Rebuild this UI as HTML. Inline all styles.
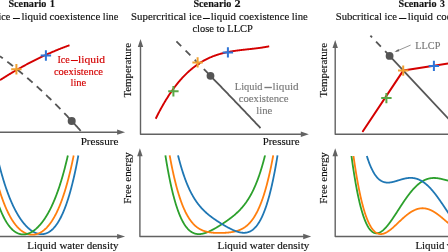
<!DOCTYPE html>
<html><head><meta charset="utf-8"><style>
html,body{margin:0;padding:0;background:#fff;}
svg{display:block;font-family:'Liberation Serif', serif;}
</style></head><body>
<svg width="448" height="252" viewBox="0 0 448 252">
<rect width="448" height="252" fill="#fff"/>
<text x="8.4" y="7.1" font-size="10.3" fill="#111" stroke="#111" stroke-width="0.15" font-weight="bold" text-anchor="start" textLength="38.0" lengthAdjust="spacingAndGlyphs" >Scenario</text>
<text x="50.1" y="7.1" font-size="10.3" fill="#111" stroke="#111" stroke-width="0.15" font-weight="bold" text-anchor="start" textLength="4.9" lengthAdjust="spacingAndGlyphs" >1</text>
<text x="193.4" y="7.1" font-size="10.3" fill="#111" stroke="#111" stroke-width="0.15" font-weight="bold" text-anchor="start" textLength="38.0" lengthAdjust="spacingAndGlyphs" >Scenario</text>
<text x="234.5" y="7.1" font-size="10.3" fill="#111" stroke="#111" stroke-width="0.15" font-weight="bold" text-anchor="start" textLength="6.1" lengthAdjust="spacingAndGlyphs" >2</text>
<text x="398.6" y="7.0" font-size="10.3" fill="#111" stroke="#111" stroke-width="0.15" font-weight="bold" text-anchor="start" textLength="37.9" lengthAdjust="spacingAndGlyphs" >Scenario</text>
<text x="440.0" y="7.0" font-size="10.3" fill="#111" stroke="#111" stroke-width="0.15" font-weight="bold" text-anchor="start" textLength="4.9" lengthAdjust="spacingAndGlyphs" >3</text>
<text x="-1.5" y="19.9" font-size="11" fill="#111" stroke="#111" stroke-width="0.15" font-weight="normal" text-anchor="start" textLength="11.8" lengthAdjust="spacingAndGlyphs" >ice</text>
<text x="13.15" y="21.10" font-size="11" fill="#111" stroke="#111" stroke-width="0.35" textLength="6.30" lengthAdjust="spacingAndGlyphs">&#8211;</text>
<text x="21.4" y="19.9" font-size="11" fill="#111" stroke="#111" stroke-width="0.15" font-weight="normal" text-anchor="start" textLength="25.6" lengthAdjust="spacingAndGlyphs" >liquid</text>
<text x="49.4" y="19.9" font-size="11" fill="#111" stroke="#111" stroke-width="0.15" font-weight="normal" text-anchor="start" textLength="50.9" lengthAdjust="spacingAndGlyphs" >coexistence</text>
<text x="102.8" y="19.9" font-size="11" fill="#111" stroke="#111" stroke-width="0.15" font-weight="normal" text-anchor="start" textLength="15.6" lengthAdjust="spacingAndGlyphs" >line</text>
<text x="131.1" y="19.9" font-size="11" fill="#111" stroke="#111" stroke-width="0.15" font-weight="normal" text-anchor="start" textLength="70.6" lengthAdjust="spacingAndGlyphs" >Supercritical ice</text>
<text x="203.15" y="21.10" font-size="11" fill="#111" stroke="#111" stroke-width="0.35" textLength="6.30" lengthAdjust="spacingAndGlyphs">&#8211;</text>
<text x="210.8" y="19.9" font-size="11" fill="#111" stroke="#111" stroke-width="0.15" font-weight="normal" text-anchor="start" textLength="25.2" lengthAdjust="spacingAndGlyphs" >liquid</text>
<text x="239.1" y="19.9" font-size="11" fill="#111" stroke="#111" stroke-width="0.15" font-weight="normal" text-anchor="start" textLength="50.2" lengthAdjust="spacingAndGlyphs" >coexistence</text>
<text x="291.8" y="19.9" font-size="11" fill="#111" stroke="#111" stroke-width="0.15" font-weight="normal" text-anchor="start" textLength="16.0" lengthAdjust="spacingAndGlyphs" >line</text>
<text x="192.4" y="31.6" font-size="11" fill="#111" stroke="#111" stroke-width="0.15" font-weight="normal" text-anchor="start" textLength="60.5" lengthAdjust="spacingAndGlyphs" >close to LLCP</text>
<text x="335.8" y="19.9" font-size="11" fill="#111" stroke="#111" stroke-width="0.15" font-weight="normal" text-anchor="start" textLength="61.2" lengthAdjust="spacingAndGlyphs" >Subcritical ice</text>
<text x="399.15" y="21.10" font-size="11" fill="#111" stroke="#111" stroke-width="0.35" textLength="6.80" lengthAdjust="spacingAndGlyphs">&#8211;</text>
<text x="407.7" y="19.9" font-size="11" fill="#111" stroke="#111" stroke-width="0.15" font-weight="normal" text-anchor="start" textLength="25.3" lengthAdjust="spacingAndGlyphs" >liquid</text>
<text x="436.5" y="19.9" font-size="11" fill="#111" stroke="#111" stroke-width="0.15" font-weight="normal" text-anchor="start" textLength="50.6" lengthAdjust="spacingAndGlyphs" >coexistence</text>
<path d="M-2,132.2H119.1" stroke="#626262" stroke-width="1.4" fill="none"/>
<path d="M125.1,132.2L117.1,129.6L117.1,134.79999999999998Z" fill="#626262"/>
<text x="80.7" y="144.6" font-size="11" fill="#111" stroke="#111" stroke-width="0.15" font-weight="normal" text-anchor="start" textLength="37.7" lengthAdjust="spacingAndGlyphs" >Pressure</text>
<path d="M0.00,56.25 L0.50,56.62 L1.00,56.98 L1.50,57.35 L2.00,57.72 L2.50,58.09 L3.00,58.46 L3.50,58.83 L4.00,59.20 L4.50,59.58 L5.00,59.95 L5.50,60.33 L6.00,60.71 L6.50,61.09 L7.00,61.47 L7.50,61.85 L8.00,62.23 L8.50,62.62 L9.00,63.00 L9.50,63.39 L10.00,63.78 L10.50,64.17 L11.00,64.56 L11.50,64.95 L12.00,65.34 L12.50,65.73 L13.00,66.13 L13.50,66.53 L14.00,66.92 L14.50,67.32 L15.00,67.72 L15.50,68.12 L16.00,68.53 L16.50,68.93 L17.00,69.33 L17.50,69.74 L18.00,70.15 L18.50,70.56 L19.00,70.97 L19.50,71.38 L20.00,71.79 L20.50,72.20 L21.00,72.62 L21.50,73.03 L22.00,73.45 L22.50,73.87 L23.00,74.29 L23.50,74.71 L24.00,75.13 L24.50,75.55 L25.00,75.98 L25.50,76.40 L26.00,76.83 L26.50,77.26 L27.00,77.69 L27.50,78.12 L28.00,78.55 L28.50,78.98 L29.00,79.41 L29.50,79.85 L30.00,80.29 L30.50,80.72 L31.00,81.16 L31.50,81.60 L32.00,82.04 L32.50,82.49 L33.00,82.93 L33.50,83.37 L34.00,83.82 L34.50,84.27 L35.00,84.72 L35.50,85.17 L36.00,85.62 L36.50,86.07 L37.00,86.52 L37.50,86.98 L38.00,87.43 L38.50,87.89 L39.00,88.35 L39.50,88.81 L40.00,89.27 L40.50,89.73 L41.00,90.19 L41.50,90.66 L42.00,91.12 L42.50,91.59 L43.00,92.06 L43.50,92.53 L44.00,93.00 L44.50,93.47 L45.00,93.94 L45.50,94.42 L46.00,94.89 L46.50,95.37 L47.00,95.85 L47.50,96.33 L48.00,96.81 L48.50,97.29 L49.00,97.77 L49.50,98.25 L50.00,98.74 L50.50,99.22 L51.00,99.71 L51.50,100.20 L52.00,100.69 L52.50,101.18 L53.00,101.67 L53.50,102.17 L54.00,102.66 L54.50,103.16 L55.00,103.66 L55.50,104.15 L56.00,104.65 L56.50,105.15 L57.00,105.66 L57.50,106.16 L58.00,106.66 L58.50,107.17 L59.00,107.68 L59.50,108.18 L60.00,108.69 L60.50,109.20 L61.00,109.72 L61.50,110.23 L62.00,110.74 L62.50,111.26 L63.00,111.78 L63.50,112.29 L64.00,112.81 L64.50,113.33 L65.00,113.85 L65.50,114.38 L66.00,114.90 L66.50,115.43 L67.00,115.95 L67.50,116.48 L68.00,117.01 L68.50,117.54 L69.00,118.07 L69.50,118.60 L70.00,119.14 L70.50,119.67 L71.00,120.21 L71.50,120.74" fill="none" stroke="#555555" stroke-width="1.8" stroke-linejoin="round" stroke-dasharray="7.2,5.6" stroke-dashoffset="3.7"/>
<path d="M71.70,120.96 L72.20,121.50 L72.70,122.04 L73.20,122.58 L73.70,123.12 L74.20,123.67 L74.70,124.21 L75.20,124.76 L75.70,125.30 L76.20,125.85 L76.70,126.40 L77.20,126.95 L77.70,127.51 L78.20,128.06 L78.70,128.62 L79.20,129.17 L79.70,129.73 L80.20,130.29 L80.70,130.85" fill="none" stroke="#555555" stroke-width="1.8" stroke-linejoin="round" />
<circle cx="71.7" cy="120.9" r="4.0" fill="#555555"/>
<path d="M0.00,80.11 L0.50,79.79 L1.00,79.47 L1.50,79.15 L2.00,78.83 L2.50,78.51 L3.00,78.19 L3.50,77.88 L4.00,77.57 L4.50,77.25 L5.00,76.94 L5.50,76.63 L6.00,76.32 L6.50,76.01 L7.00,75.70 L7.50,75.39 L8.00,75.09 L8.50,74.78 L9.00,74.48 L9.50,74.17 L10.00,73.87 L10.50,73.57 L11.00,73.27 L11.50,72.97 L12.00,72.67 L12.50,72.38 L13.00,72.08 L13.50,71.79 L14.00,71.49 L14.50,71.20 L15.00,70.91 L15.50,70.62 L16.00,70.33 L16.50,70.04 L17.00,69.75 L17.50,69.46 L18.00,69.18 L18.50,68.89 L19.00,68.61 L19.50,68.33 L20.00,68.05 L20.50,67.77 L21.00,67.49 L21.50,67.21 L22.00,66.93 L22.50,66.65 L23.00,66.38 L23.50,66.10 L24.00,65.83 L24.50,65.56 L25.00,65.29 L25.50,65.02 L26.00,64.75 L26.50,64.48 L27.00,64.21 L27.50,63.95 L28.00,63.68 L28.50,63.42 L29.00,63.15 L29.50,62.89 L30.00,62.63 L30.50,62.37 L31.00,62.11 L31.50,61.85 L32.00,61.60 L32.50,61.34 L33.00,61.08 L33.50,60.83 L34.00,60.58 L34.50,60.33 L35.00,60.07 L35.50,59.82 L36.00,59.58 L36.50,59.33 L37.00,59.08 L37.50,58.84 L38.00,58.59 L38.50,58.35 L39.00,58.10 L39.50,57.86 L40.00,57.62 L40.50,57.38 L41.00,57.14 L41.50,56.91 L42.00,56.67 L42.50,56.43 L43.00,56.20 L43.50,55.97 L44.00,55.73 L44.50,55.50 L45.00,55.27 L45.50,55.04 L46.00,54.81 L46.50,54.59 L47.00,54.36 L47.50,54.13 L48.00,53.91 L48.50,53.69 L49.00,53.47 L49.50,53.24 L50.00,53.02 L50.50,52.80 L51.00,52.59 L51.50,52.37 L52.00,52.15 L52.50,51.94 L53.00,51.72 L53.50,51.51 L54.00,51.30 L54.50,51.09 L55.00,50.88 L55.50,50.67 L56.00,50.46 L56.50,50.25 L57.00,50.05 L57.50,49.84 L58.00,49.64 L58.50,49.44 L59.00,49.24 L59.50,49.03 L60.00,48.84 L60.50,48.64 L61.00,48.44 L61.50,48.24 L62.00,48.05 L62.50,47.85 L63.00,47.66 L63.50,47.47 L64.00,47.27 L64.50,47.08 L65.00,46.89 L65.50,46.71 L66.00,46.52 L66.50,46.33 L67.00,46.15 L67.50,45.96 L68.00,45.78 L68.50,45.60 L69.00,45.42 L69.50,45.24" fill="none" stroke="#d40000" stroke-width="1.9" stroke-linejoin="round" />
<path d="M11.2,69.3H21.599999999999998M16.4,64.1V74.5" stroke="#f0a030" stroke-width="2" fill="none"/>
<path d="M40.699999999999996,55.5H51.1M45.9,50.3V60.7" stroke="#2f74d6" stroke-width="2" fill="none"/>
<text x="57.4" y="63.3" font-size="11" fill="#d40000" stroke="#d40000" stroke-width="0.15" font-weight="normal" text-anchor="start" textLength="12.3" lengthAdjust="spacingAndGlyphs" >Ice</text>
<text x="71.25" y="63.30" font-size="11" fill="#d40000" stroke="#d40000" stroke-width="0.53" textLength="6.20" lengthAdjust="spacingAndGlyphs">&#8211;</text>
<text x="78.1" y="63.3" font-size="11" fill="#d40000" stroke="#d40000" stroke-width="0.15" font-weight="normal" text-anchor="start" textLength="27.0" lengthAdjust="spacingAndGlyphs" >liquid</text>
<text x="53.9" y="74.8" font-size="11" fill="#d40000" stroke="#d40000" stroke-width="0.15" font-weight="normal" text-anchor="start" textLength="49.1" lengthAdjust="spacingAndGlyphs" >coexistence</text>
<text x="70.5" y="86.3" font-size="11" fill="#d40000" stroke="#d40000" stroke-width="0.15" font-weight="normal" text-anchor="start" textLength="15.8" lengthAdjust="spacingAndGlyphs" >line</text>
<path d="M-2,236.5H119.1" stroke="#626262" stroke-width="1.4" fill="none"/>
<path d="M125.1,236.5L117.1,233.9L117.1,239.1Z" fill="#626262"/>
<text x="27.2" y="249.0" font-size="11" fill="#111" stroke="#111" stroke-width="0.15" font-weight="normal" text-anchor="start" textLength="91.4" lengthAdjust="spacingAndGlyphs" >Liquid water density</text>
<path d="M-1.00,163.95 L-0.75,164.94 L-0.50,165.91 L-0.25,166.88 L0.00,167.84 L0.25,168.79 L0.50,169.72 L0.75,170.65 L1.00,171.57 L1.25,172.47 L1.50,173.37 L1.75,174.26 L2.00,175.14 L2.25,176.01 L2.50,176.87 L2.75,177.72 L3.00,178.56 L3.25,179.39 L3.50,180.21 L3.75,181.03 L4.00,181.83 L4.25,182.63 L4.50,183.41 L4.75,184.19 L5.00,184.96 L5.25,185.72 L5.50,186.48 L5.75,187.22 L6.00,187.96 L6.25,188.69 L6.50,189.41 L6.75,190.12 L7.00,190.83 L7.25,191.52 L7.50,192.21 L7.75,192.90 L8.00,193.57 L8.25,194.24 L8.50,194.89 L8.75,195.55 L9.00,196.19 L9.25,196.83 L9.50,197.46 L9.75,198.08 L10.00,198.69 L10.25,199.30 L10.50,199.90 L10.75,200.50 L11.00,201.09 L11.25,201.67 L11.50,202.24 L11.75,202.81 L12.00,203.37 L12.25,203.92 L12.50,204.47 L12.75,205.01 L13.00,205.55 L13.25,206.08 L13.50,206.60 L13.75,207.12 L14.00,207.63 L14.25,208.13 L14.50,208.63 L14.75,209.12 L15.00,209.61 L15.25,210.09 L15.50,210.57 L15.75,211.04 L16.00,211.50 L16.25,211.96 L16.50,212.41 L16.75,212.86 L17.00,213.30 L17.25,213.73 L17.50,214.16 L17.75,214.59 L18.00,215.01 L18.25,215.42 L18.50,215.83 L18.75,216.23 L19.00,216.63 L19.25,217.03 L19.50,217.42 L19.75,217.80 L20.00,218.18 L20.25,218.55 L20.50,218.92 L20.75,219.28 L21.00,219.64 L21.25,219.99 L21.50,220.34 L21.75,220.69 L22.00,221.03 L22.25,221.36 L22.50,221.69 L22.75,222.02 L23.00,222.34 L23.25,222.65 L23.50,222.96 L23.75,223.27 L24.00,223.57 L24.25,223.87 L24.50,224.16 L24.75,224.45 L25.00,224.74 L25.25,225.02 L25.50,225.29 L25.75,225.56 L26.00,225.83 L26.25,226.09 L26.50,226.35 L26.75,226.61 L27.00,226.86 L27.25,227.10 L27.50,227.34 L27.75,227.58 L28.00,227.81 L28.25,228.04 L28.50,228.26 L28.75,228.48 L29.00,228.70 L29.25,228.91 L29.50,229.12 L29.75,229.32 L30.00,229.52 L30.25,229.72 L30.50,229.91 L30.75,230.09 L31.00,230.28 L31.25,230.45 L31.50,230.63 L31.75,230.80 L32.00,230.97 L32.25,231.13 L32.50,231.29 L32.75,231.44 L33.00,231.59 L33.25,231.73 L33.50,231.88 L33.75,232.01 L34.00,232.15 L34.25,232.28 L34.50,232.40 L34.75,232.52 L35.00,232.64 L35.25,232.75 L35.50,232.86 L35.75,232.96 L36.00,233.06 L36.25,233.16 L36.50,233.25 L36.75,233.34 L37.00,233.42 L37.25,233.50 L37.50,233.57 L37.75,233.64 L38.00,233.71 L38.25,233.77 L38.50,233.83 L38.75,233.88 L39.00,233.93 L39.25,233.98 L39.50,234.02 L39.75,234.05 L40.00,234.08 L40.25,234.11 L40.50,234.13 L40.75,234.15 L41.00,234.16 L41.25,234.17 L41.50,234.18 L41.75,234.17 L42.00,234.17 L42.25,234.16 L42.50,234.14 L42.75,234.13 L43.00,234.10 L43.25,234.07 L43.50,234.04 L43.75,234.00 L44.00,233.96 L44.25,233.91 L44.50,233.85 L44.75,233.80 L45.00,233.73 L45.25,233.66 L45.50,233.59 L45.75,233.51 L46.00,233.43 L46.25,233.34 L46.50,233.25 L46.75,233.15 L47.00,233.04 L47.25,232.93 L47.50,232.81 L47.75,232.69 L48.00,232.57 L48.25,232.43 L48.50,232.30 L48.75,232.15 L49.00,232.00 L49.25,231.85 L49.50,231.69 L49.75,231.52 L50.00,231.35 L50.25,231.17 L50.50,230.98 L50.75,230.79 L51.00,230.60 L51.25,230.39 L51.50,230.19 L51.75,229.97 L52.00,229.75 L52.25,229.52 L52.50,229.29 L52.75,229.04 L53.00,228.80 L53.25,228.54 L53.50,228.28 L53.75,228.01 L54.00,227.74 L54.25,227.46 L54.50,227.17 L54.75,226.87 L55.00,226.57 L55.25,226.26 L55.50,225.94 L55.75,225.62 L56.00,225.29 L56.25,224.95 L56.50,224.60 L56.75,224.25 L57.00,223.89 L57.25,223.52 L57.50,223.14 L57.75,222.76 L58.00,222.36 L58.25,221.96 L58.50,221.55 L58.75,221.14 L59.00,220.71 L59.25,220.28 L59.50,219.84 L59.75,219.39 L60.00,218.93 L60.25,218.46 L60.50,217.98 L60.75,217.50 L61.00,217.00 L61.25,216.50 L61.50,215.99 L61.75,215.47 L62.00,214.94 L62.25,214.40 L62.50,213.85 L62.75,213.29 L63.00,212.72 L63.25,212.15 L63.50,211.56 L63.75,210.96 L64.00,210.35 L64.25,209.74 L64.50,209.11 L64.75,208.47 L65.00,207.82 L65.25,207.17 L65.50,206.50 L65.75,205.82 L66.00,205.13 L66.25,204.43 L66.50,203.72 L66.75,202.99 L67.00,202.26 L67.25,201.52 L67.50,200.76 L67.75,199.99 L68.00,199.21 L68.25,198.42 L68.50,197.62 L68.75,196.81 L69.00,195.98 L69.25,195.14 L69.50,194.29 L69.75,193.43 L70.00,192.56 L70.25,191.67 L70.50,190.77 L70.75,189.86 L71.00,188.93 L71.25,187.99 L71.50,187.04 L71.75,186.08 L72.00,185.10 L72.25,184.11 L72.50,183.10 L72.75,182.09 L73.00,181.06 L73.25,180.01 L73.50,178.95 L73.75,177.88 L74.00,176.79 L74.25,175.69 L74.50,174.57 L74.75,173.44 L75.00,172.29 L75.25,171.13 L75.50,169.96 L75.75,168.77 L76.00,167.56 L76.25,166.34 L76.50,165.10 L76.75,163.85 L77.00,162.58 L77.25,161.30 L77.50,160.00 L77.75,158.69 L78.00,157.35 L78.25,156.00 L78.34,155.50" fill="none" stroke="#1f77b4" stroke-width="1.8" stroke-linejoin="round" />
<path d="M-1.00,188.59 L-0.75,189.42 L-0.50,190.24 L-0.25,191.05 L0.00,191.85 L0.25,192.64 L0.50,193.42 L0.75,194.18 L1.00,194.94 L1.25,195.69 L1.50,196.43 L1.75,197.16 L2.00,197.88 L2.25,198.59 L2.50,199.29 L2.75,199.98 L3.00,200.67 L3.25,201.34 L3.50,202.00 L3.75,202.66 L4.00,203.30 L4.25,203.94 L4.50,204.57 L4.75,205.19 L5.00,205.80 L5.25,206.41 L5.50,207.00 L5.75,207.59 L6.00,208.17 L6.25,208.74 L6.50,209.30 L6.75,209.85 L7.00,210.40 L7.25,210.94 L7.50,211.47 L7.75,211.99 L8.00,212.51 L8.25,213.02 L8.50,213.52 L8.75,214.01 L9.00,214.50 L9.25,214.97 L9.50,215.45 L9.75,215.91 L10.00,216.37 L10.25,216.82 L10.50,217.26 L10.75,217.70 L11.00,218.13 L11.25,218.55 L11.50,218.96 L11.75,219.37 L12.00,219.78 L12.25,220.17 L12.50,220.56 L12.75,220.94 L13.00,221.32 L13.25,221.69 L13.50,222.06 L13.75,222.42 L14.00,222.77 L14.25,223.11 L14.50,223.45 L14.75,223.79 L15.00,224.12 L15.25,224.44 L15.50,224.75 L15.75,225.07 L16.00,225.37 L16.25,225.67 L16.50,225.96 L16.75,226.25 L17.00,226.54 L17.25,226.81 L17.50,227.08 L17.75,227.35 L18.00,227.61 L18.25,227.87 L18.50,228.12 L18.75,228.36 L19.00,228.60 L19.25,228.84 L19.50,229.07 L19.75,229.29 L20.00,229.51 L20.25,229.73 L20.50,229.94 L20.75,230.14 L21.00,230.34 L21.25,230.54 L21.50,230.73 L21.75,230.92 L22.00,231.10 L22.25,231.27 L22.50,231.44 L22.75,231.61 L23.00,231.77 L23.25,231.93 L23.50,232.08 L23.75,232.23 L24.00,232.38 L24.25,232.52 L24.50,232.65 L24.75,232.78 L25.00,232.91 L25.25,233.03 L25.50,233.15 L25.75,233.26 L26.00,233.37 L26.25,233.47 L26.50,233.57 L26.75,233.67 L27.00,233.76 L27.25,233.84 L27.50,233.93 L27.75,234.01 L28.00,234.08 L28.25,234.15 L28.50,234.22 L28.75,234.28 L29.00,234.33 L29.25,234.39 L29.50,234.44 L29.75,234.48 L30.00,234.52 L30.25,234.56 L30.50,234.59 L30.75,234.62 L31.00,234.64 L31.25,234.66 L31.50,234.68 L31.75,234.69 L32.00,234.70 L32.25,234.70 L32.50,234.70 L32.75,234.70 L33.00,234.69 L33.25,234.68 L33.50,234.66 L33.75,234.64 L34.00,234.61 L34.25,234.58 L34.50,234.55 L34.75,234.51 L35.00,234.47 L35.25,234.43 L35.50,234.38 L35.75,234.32 L36.00,234.26 L36.25,234.20 L36.50,234.13 L36.75,234.06 L37.00,233.99 L37.25,233.91 L37.50,233.82 L37.75,233.74 L38.00,233.64 L38.25,233.55 L38.50,233.45 L38.75,233.34 L39.00,233.23 L39.25,233.12 L39.50,233.00 L39.75,232.88 L40.00,232.75 L40.25,232.62 L40.50,232.48 L40.75,232.34 L41.00,232.20 L41.25,232.05 L41.50,231.89 L41.75,231.73 L42.00,231.57 L42.25,231.40 L42.50,231.23 L42.75,231.05 L43.00,230.87 L43.25,230.68 L43.50,230.49 L43.75,230.29 L44.00,230.09 L44.25,229.88 L44.50,229.67 L44.75,229.45 L45.00,229.23 L45.25,229.00 L45.50,228.77 L45.75,228.54 L46.00,228.29 L46.25,228.05 L46.50,227.79 L46.75,227.54 L47.00,227.27 L47.25,227.00 L47.50,226.73 L47.75,226.45 L48.00,226.16 L48.25,225.87 L48.50,225.58 L48.75,225.28 L49.00,224.97 L49.25,224.65 L49.50,224.33 L49.75,224.01 L50.00,223.68 L50.25,223.34 L50.50,223.00 L50.75,222.65 L51.00,222.29 L51.25,221.93 L51.50,221.57 L51.75,221.19 L52.00,220.81 L52.25,220.43 L52.50,220.03 L52.75,219.63 L53.00,219.23 L53.25,218.81 L53.50,218.39 L53.75,217.97 L54.00,217.53 L54.25,217.10 L54.50,216.65 L54.75,216.19 L55.00,215.73 L55.25,215.27 L55.50,214.79 L55.75,214.31 L56.00,213.82 L56.25,213.32 L56.50,212.82 L56.75,212.30 L57.00,211.78 L57.25,211.26 L57.50,210.72 L57.75,210.18 L58.00,209.63 L58.25,209.07 L58.50,208.50 L58.75,207.92 L59.00,207.34 L59.25,206.75 L59.50,206.15 L59.75,205.54 L60.00,204.92 L60.25,204.30 L60.50,203.66 L60.75,203.02 L61.00,202.37 L61.25,201.70 L61.50,201.03 L61.75,200.35 L62.00,199.67 L62.25,198.97 L62.50,198.26 L62.75,197.54 L63.00,196.82 L63.25,196.08 L63.50,195.34 L63.75,194.58 L64.00,193.81 L64.25,193.04 L64.50,192.25 L64.75,191.46 L65.00,190.65 L65.25,189.83 L65.50,189.01 L65.75,188.17 L66.00,187.32 L66.25,186.46 L66.50,185.59 L66.75,184.71 L67.00,183.82 L67.25,182.92 L67.50,182.00 L67.75,181.08 L68.00,180.14 L68.25,179.19 L68.50,178.23 L68.75,177.26 L69.00,176.27 L69.25,175.28 L69.50,174.27 L69.75,173.25 L70.00,172.21 L70.25,171.17 L70.50,170.11 L70.75,169.04 L71.00,167.96 L71.25,166.86 L71.50,165.75 L71.75,164.63 L72.00,163.49 L72.25,162.34 L72.50,161.18 L72.75,160.00 L73.00,158.81 L73.25,157.61 L73.50,156.39 L73.68,155.50" fill="none" stroke="#ff7f0e" stroke-width="1.8" stroke-linejoin="round" />
<path d="M-1.00,206.14 L-0.75,206.81 L-0.50,207.48 L-0.25,208.13 L0.00,208.77 L0.25,209.41 L0.50,210.03 L0.75,210.64 L1.00,211.25 L1.25,211.84 L1.50,212.43 L1.75,213.00 L2.00,213.57 L2.25,214.12 L2.50,214.67 L2.75,215.20 L3.00,215.73 L3.25,216.25 L3.50,216.76 L3.75,217.26 L4.00,217.75 L4.25,218.23 L4.50,218.71 L4.75,219.17 L5.00,219.63 L5.25,220.08 L5.50,220.52 L5.75,220.95 L6.00,221.37 L6.25,221.79 L6.50,222.20 L6.75,222.59 L7.00,222.99 L7.25,223.37 L7.50,223.75 L7.75,224.11 L8.00,224.47 L8.25,224.83 L8.50,225.17 L8.75,225.51 L9.00,225.84 L9.25,226.16 L9.50,226.48 L9.75,226.79 L10.00,227.09 L10.25,227.39 L10.50,227.67 L10.75,227.96 L11.00,228.23 L11.25,228.50 L11.50,228.76 L11.75,229.01 L12.00,229.26 L12.25,229.50 L12.50,229.74 L12.75,229.96 L13.00,230.19 L13.25,230.40 L13.50,230.61 L13.75,230.81 L14.00,231.01 L14.25,231.20 L14.50,231.39 L14.75,231.57 L15.00,231.74 L15.25,231.91 L15.50,232.07 L15.75,232.23 L16.00,232.38 L16.25,232.52 L16.50,232.66 L16.75,232.79 L17.00,232.92 L17.25,233.04 L17.50,233.16 L17.75,233.27 L18.00,233.38 L18.25,233.48 L18.50,233.57 L18.75,233.66 L19.00,233.75 L19.25,233.83 L19.50,233.90 L19.75,233.97 L20.00,234.04 L20.25,234.10 L20.50,234.15 L20.75,234.20 L21.00,234.25 L21.25,234.29 L21.50,234.32 L21.75,234.35 L22.00,234.38 L22.25,234.40 L22.50,234.42 L22.75,234.43 L23.00,234.44 L23.25,234.44 L23.50,234.44 L23.75,234.43 L24.00,234.42 L24.25,234.40 L24.50,234.38 L24.75,234.36 L25.00,234.33 L25.25,234.30 L25.50,234.26 L25.75,234.22 L26.00,234.17 L26.25,234.12 L26.50,234.06 L26.75,234.00 L27.00,233.94 L27.25,233.87 L27.50,233.80 L27.75,233.72 L28.00,233.64 L28.25,233.56 L28.50,233.47 L28.75,233.38 L29.00,233.28 L29.25,233.18 L29.50,233.07 L29.75,232.96 L30.00,232.85 L30.25,232.73 L30.50,232.60 L30.75,232.48 L31.00,232.35 L31.25,232.21 L31.50,232.07 L31.75,231.93 L32.00,231.78 L32.25,231.63 L32.50,231.48 L32.75,231.32 L33.00,231.15 L33.25,230.98 L33.50,230.81 L33.75,230.64 L34.00,230.46 L34.25,230.27 L34.50,230.08 L34.75,229.89 L35.00,229.69 L35.25,229.49 L35.50,229.29 L35.75,229.08 L36.00,228.87 L36.25,228.65 L36.50,228.43 L36.75,228.20 L37.00,227.97 L37.25,227.74 L37.50,227.50 L37.75,227.25 L38.00,227.01 L38.25,226.75 L38.50,226.50 L38.75,226.24 L39.00,225.97 L39.25,225.70 L39.50,225.43 L39.75,225.15 L40.00,224.87 L40.25,224.58 L40.50,224.29 L40.75,224.00 L41.00,223.70 L41.25,223.39 L41.50,223.08 L41.75,222.77 L42.00,222.45 L42.25,222.13 L42.50,221.80 L42.75,221.47 L43.00,221.13 L43.25,220.79 L43.50,220.44 L43.75,220.09 L44.00,219.73 L44.25,219.37 L44.50,219.00 L44.75,218.63 L45.00,218.25 L45.25,217.87 L45.50,217.48 L45.75,217.09 L46.00,216.69 L46.25,216.29 L46.50,215.88 L46.75,215.47 L47.00,215.05 L47.25,214.63 L47.50,214.20 L47.75,213.77 L48.00,213.33 L48.25,212.88 L48.50,212.43 L48.75,211.97 L49.00,211.51 L49.25,211.04 L49.50,210.57 L49.75,210.09 L50.00,209.60 L50.25,209.11 L50.50,208.61 L50.75,208.11 L51.00,207.60 L51.25,207.08 L51.50,206.56 L51.75,206.03 L52.00,205.49 L52.25,204.95 L52.50,204.40 L52.75,203.85 L53.00,203.29 L53.25,202.72 L53.50,202.14 L53.75,201.56 L54.00,200.98 L54.25,200.38 L54.50,199.78 L54.75,199.17 L55.00,198.55 L55.25,197.93 L55.50,197.30 L55.75,196.66 L56.00,196.02 L56.25,195.37 L56.50,194.71 L56.75,194.04 L57.00,193.36 L57.25,192.68 L57.50,191.99 L57.75,191.29 L58.00,190.59 L58.25,189.87 L58.50,189.15 L58.75,188.42 L59.00,187.68 L59.25,186.93 L59.50,186.18 L59.75,185.41 L60.00,184.64 L60.25,183.86 L60.50,183.07 L60.75,182.27 L61.00,181.46 L61.25,180.65 L61.50,179.82 L61.75,178.99 L62.00,178.14 L62.25,177.29 L62.50,176.43 L62.75,175.56 L63.00,174.68 L63.25,173.79 L63.50,172.88 L63.75,171.97 L64.00,171.05 L64.25,170.12 L64.50,169.18 L64.75,168.23 L65.00,167.27 L65.25,166.30 L65.50,165.32 L65.75,164.32 L66.00,163.32 L66.25,162.31 L66.50,161.28 L66.75,160.25 L67.00,159.20 L67.25,158.14 L67.50,157.07 L67.75,155.99 L67.86,155.50" fill="none" stroke="#2ca02c" stroke-width="1.8" stroke-linejoin="round" />
<path d="M140.5,45V134.3H302.8" stroke="#626262" stroke-width="1.4" fill="none" stroke-linejoin="round"/>
<path d="M308.8,134.3L300.8,131.60000000000002L300.8,137.0Z" fill="#626262"/>
<path d="M140.5,39L137.8,47L143.2,47Z" fill="#626262"/>
<text transform="translate(130.6,97.6) rotate(-90)" x="0" y="0" font-size="11" fill="#111" textLength="54.8" lengthAdjust="spacingAndGlyphs" stroke="#111" stroke-width="0.15">Temperature</text>
<text x="262.7" y="144.6" font-size="11" fill="#111" stroke="#111" stroke-width="0.15" font-weight="normal" text-anchor="start" textLength="36.8" lengthAdjust="spacingAndGlyphs" >Pressure</text>
<path d="M176.40,41.30 L176.90,41.80 L177.40,42.30 L177.90,42.81 L178.40,43.31 L178.90,43.81 L179.40,44.32 L179.90,44.82 L180.40,45.32 L180.90,45.83 L181.40,46.33 L181.90,46.83 L182.40,47.34 L182.90,47.84 L183.40,48.35 L183.90,48.85 L184.40,49.36 L184.90,49.86 L185.40,50.37 L185.90,50.87 L186.40,51.38 L186.90,51.88 L187.40,52.39 L187.90,52.89 L188.40,53.40 L188.90,53.91 L189.40,54.41 L189.90,54.92 L190.40,55.43 L190.90,55.93 L191.40,56.44 L191.90,56.95 L192.40,57.45 L192.90,57.96 L193.40,58.47 L193.90,58.98 L194.40,59.48 L194.90,59.99 L195.40,60.50 L195.90,61.01 L196.40,61.52 L196.90,62.03 L197.40,62.54 L197.90,63.04 L198.40,63.55 L198.90,64.06 L199.40,64.57 L199.90,65.08 L200.40,65.59 L200.90,66.10 L201.40,66.61 L201.90,67.12 L202.40,67.63 L202.90,68.14 L203.40,68.65 L203.90,69.17 L204.40,69.68 L204.90,70.19 L205.40,70.70 L205.90,71.21 L206.40,71.72 L206.90,72.23 L207.40,72.75 L207.90,73.26 L208.40,73.77 L208.90,74.28 L209.40,74.80 L209.90,75.31 L210.40,75.82" fill="none" stroke="#555555" stroke-width="1.8" stroke-linejoin="round" stroke-dasharray="6.8,6.2" stroke-dashoffset="0"/>
<path d="M210.50,75.93 L211.00,76.44 L211.50,76.95 L212.00,77.47 L212.50,77.98 L213.00,78.49 L213.50,79.01 L214.00,79.52 L214.50,80.04 L215.00,80.55 L215.50,81.07 L216.00,81.58 L216.50,82.10 L217.00,82.61 L217.50,83.13 L218.00,83.64 L218.50,84.16 L219.00,84.67 L219.50,85.19 L220.00,85.71 L220.50,86.22 L221.00,86.74 L221.50,87.25 L222.00,87.77 L222.50,88.29 L223.00,88.81 L223.50,89.32 L224.00,89.84 L224.50,90.36 L225.00,90.88 L225.50,91.39 L226.00,91.91 L226.50,92.43 L227.00,92.95 L227.50,93.47 L228.00,93.99 L228.50,94.51 L229.00,95.02 L229.50,95.54 L230.00,96.06 L230.50,96.58 L231.00,97.10 L231.50,97.62 L232.00,98.14 L232.50,98.66 L233.00,99.18 L233.50,99.70 L234.00,100.22 L234.50,100.74 L235.00,101.27 L235.50,101.79 L236.00,102.31 L236.50,102.83 L237.00,103.35 L237.50,103.87 L238.00,104.40 L238.50,104.92 L239.00,105.44 L239.50,105.96 L240.00,106.48 L240.50,107.01 L241.00,107.53 L241.50,108.05 L242.00,108.58 L242.50,109.10 L243.00,109.62 L243.50,110.15 L244.00,110.67 L244.50,111.20 L245.00,111.72 L245.50,112.24 L246.00,112.77 L246.50,113.29 L247.00,113.82 L247.50,114.34 L248.00,114.87 L248.50,115.39 L249.00,115.92 L249.50,116.44 L250.00,116.97 L250.50,117.50 L251.00,118.02 L251.50,118.55 L252.00,119.08 L252.50,119.60 L253.00,120.13 L253.50,120.66 L254.00,121.18 L254.50,121.71 L255.00,122.24 L255.50,122.77 L256.00,123.29 L256.50,123.82 L257.00,124.35 L257.50,124.88 L258.00,125.41 L258.50,125.93 L259.00,126.46 L259.50,126.99 L260.00,127.52 L260.50,128.05" fill="none" stroke="#555555" stroke-width="1.8" stroke-linejoin="round" />
<circle cx="210.5" cy="75.8" r="3.9" fill="#555555"/>
<path d="M155.70,118.73 L156.20,117.72 L156.70,116.71 L157.20,115.72 L157.70,114.74 L158.20,113.77 L158.70,112.80 L159.20,111.85 L159.70,110.91 L160.20,109.98 L160.70,109.05 L161.20,108.14 L161.70,107.24 L162.20,106.34 L162.70,105.46 L163.20,104.59 L163.70,103.72 L164.20,102.87 L164.70,102.02 L165.20,101.19 L165.70,100.36 L166.20,99.54 L166.70,98.74 L167.20,97.94 L167.70,97.15 L168.20,96.37 L168.70,95.60 L169.20,94.83 L169.70,94.08 L170.20,93.34 L170.70,92.60 L171.20,91.87 L171.70,91.16 L172.20,90.45 L172.70,89.74 L173.20,89.05 L173.70,88.37 L174.20,87.69 L174.70,87.02 L175.20,86.37 L175.70,85.71 L176.20,85.07 L176.70,84.44 L177.20,83.81 L177.70,83.19 L178.20,82.58 L178.70,81.98 L179.20,81.38 L179.70,80.80 L180.20,80.22 L180.70,79.65 L181.20,79.08 L181.70,78.53 L182.20,77.98 L182.70,77.44 L183.20,76.90 L183.70,76.37 L184.20,75.85 L184.70,75.34 L185.20,74.84 L185.70,74.34 L186.20,73.85 L186.70,73.36 L187.20,72.89 L187.70,72.42 L188.20,71.95 L188.70,71.50 L189.20,71.05 L189.70,70.60 L190.20,70.17 L190.70,69.74 L191.20,69.31 L191.70,68.90 L192.20,68.49 L192.70,68.08 L193.20,67.68 L193.70,67.29 L194.20,66.91 L194.70,66.53 L195.20,66.15 L195.70,65.78 L196.20,65.42 L196.70,65.07 L197.20,64.72 L197.70,64.37 L198.20,64.03 L198.70,63.70 L199.20,63.37 L199.70,63.05 L200.20,62.73 L200.70,62.42 L201.20,62.12 L201.70,61.82 L202.20,61.52 L202.70,61.23 L203.20,60.95 L203.70,60.67 L204.20,60.39 L204.70,60.12 L205.20,59.86 L205.70,59.60 L206.20,59.34 L206.70,59.09 L207.20,58.85 L207.70,58.61 L208.20,58.37 L208.70,58.14 L209.20,57.91 L209.70,57.69 L210.20,57.47 L210.70,57.25 L211.20,57.04 L211.70,56.84 L212.20,56.63 L212.70,56.44 L213.20,56.24 L213.70,56.05 L214.20,55.87 L214.70,55.68 L215.20,55.51 L215.70,55.33 L216.20,55.16 L216.70,54.99 L217.20,54.83 L217.70,54.67 L218.20,54.51 L218.70,54.36 L219.20,54.21 L219.70,54.06 L220.20,53.92 L220.70,53.78 L221.20,53.64 L221.70,53.50 L222.20,53.37 L222.70,53.24 L223.20,53.12 L223.70,52.99 L224.20,52.87 L224.70,52.76 L225.20,52.64 L225.70,52.53 L226.20,52.42 L226.70,52.31 L227.20,52.21 L227.70,52.11 L228.20,52.01 L228.70,51.91 L229.20,51.81 L229.70,51.72 L230.20,51.63 L230.70,51.54 L231.20,51.45 L231.70,51.37 L232.20,51.28 L232.70,51.20 L233.20,51.12 L233.70,51.04 L234.20,50.97 L234.70,50.89 L235.20,50.82 L235.70,50.74 L236.20,50.67 L236.70,50.60 L237.20,50.54 L237.70,50.47 L238.20,50.40 L238.70,50.34 L239.20,50.28 L239.70,50.21 L240.20,50.15 L240.70,50.09 L241.20,50.03 L241.70,49.97 L242.20,49.91 L242.70,49.86 L243.20,49.80 L243.70,49.74 L244.20,49.69 L244.70,49.63 L245.20,49.58 L245.70,49.52 L246.20,49.47 L246.70,49.41 L247.20,49.36 L247.70,49.31 L248.20,49.25 L248.70,49.20 L249.20,49.15 L249.70,49.09 L250.20,49.04 L250.70,48.98 L251.20,48.93 L251.70,48.87 L252.20,48.82 L252.70,48.76 L253.20,48.71 L253.70,48.65 L254.20,48.59 L254.70,48.53 L255.20,48.48 L255.70,48.42 L256.20,48.35 L256.70,48.29 L257.20,48.23 L257.70,48.17 L258.20,48.10 L258.70,48.04 L259.20,47.97 L259.70,47.90 L260.20,47.83 L260.70,47.76 L261.20,47.69 L261.70,47.62 L262.20,47.54 L262.70,47.47 L263.20,47.39 L263.70,47.31 L264.20,47.23 L264.70,47.14 L265.20,47.06 L265.70,46.97 L266.20,46.88 L266.70,46.79 L267.20,46.70 L267.70,46.60 L268.20,46.50 L268.70,46.40 L269.20,46.30" fill="none" stroke="#d40000" stroke-width="1.9" stroke-linejoin="round" />
<path d="M168.20000000000002,91.2H178.6M173.4,86.0V96.4" stroke="#5aa846" stroke-width="2" fill="none"/>
<path d="M192.4,62.4H202.79999999999998M197.6,57.199999999999996V67.6" stroke="#f0a030" stroke-width="2" fill="none"/>
<path d="M222.70000000000002,52.4H233.1M227.9,47.199999999999996V57.6" stroke="#2f74d6" stroke-width="2" fill="none"/>
<text x="234.8" y="90.2" font-size="11" fill="#7a7a7a" stroke="#7a7a7a" stroke-width="0.15" font-weight="normal" text-anchor="start" textLength="27.8" lengthAdjust="spacingAndGlyphs" >Liquid</text>
<text x="264.95" y="90.00" font-size="11" fill="#7a7a7a" stroke="#7a7a7a" stroke-width="0.83" textLength="6.30" lengthAdjust="spacingAndGlyphs">&#8211;</text>
<text x="272.6" y="90.2" font-size="11" fill="#7a7a7a" stroke="#7a7a7a" stroke-width="0.15" font-weight="normal" text-anchor="start" textLength="26.1" lengthAdjust="spacingAndGlyphs" >liquid</text>
<text x="238.7" y="101.9" font-size="11" fill="#7a7a7a" stroke="#7a7a7a" stroke-width="0.15" font-weight="normal" text-anchor="start" textLength="49.9" lengthAdjust="spacingAndGlyphs" >coexistence</text>
<text x="256.3" y="113.6" font-size="11" fill="#7a7a7a" stroke="#7a7a7a" stroke-width="0.15" font-weight="normal" text-anchor="start" textLength="16.0" lengthAdjust="spacingAndGlyphs" >line</text>
<path d="M139.9,154.3V236.5H305.2" stroke="#626262" stroke-width="1.4" fill="none" stroke-linejoin="round"/>
<path d="M311.2,236.5L303.2,233.8L303.2,239.2Z" fill="#626262"/>
<path d="M139.9,148.3L137.20000000000002,156.3L142.6,156.3Z" fill="#626262"/>
<text transform="translate(131.2,203.8) rotate(-90)" x="0" y="0" font-size="11" fill="#111" textLength="51.6" lengthAdjust="spacingAndGlyphs" stroke="#111" stroke-width="0.15">Free energy</text>
<text x="217.4" y="249.0" font-size="11" fill="#111" stroke="#111" stroke-width="0.15" font-weight="normal" text-anchor="start" textLength="91.9" lengthAdjust="spacingAndGlyphs" >Liquid water density</text>
<path d="M165.40,155.40 L165.50,156.01 L165.75,157.56 L166.00,159.09 L166.25,160.61 L166.50,162.09 L166.75,163.56 L167.00,165.01 L167.25,166.44 L167.50,167.84 L167.75,169.23 L168.00,170.60 L168.25,171.94 L168.50,173.27 L168.75,174.58 L169.00,175.86 L169.25,177.13 L169.50,178.38 L169.75,179.61 L170.00,180.82 L170.25,182.01 L170.50,183.19 L170.75,184.34 L171.00,185.48 L171.25,186.60 L171.50,187.70 L171.75,188.79 L172.00,189.85 L172.25,190.90 L172.50,191.94 L172.75,192.95 L173.00,193.95 L173.25,194.93 L173.50,195.90 L173.75,196.85 L174.00,197.78 L174.25,198.70 L174.50,199.61 L174.75,200.49 L175.00,201.36 L175.25,202.22 L175.50,203.06 L175.75,203.89 L176.00,204.70 L176.25,205.50 L176.50,206.28 L176.75,207.05 L177.00,207.80 L177.25,208.54 L177.50,209.26 L177.75,209.98 L178.00,210.67 L178.25,211.36 L178.50,212.03 L178.75,212.69 L179.00,213.34 L179.25,213.97 L179.50,214.59 L179.75,215.20 L180.00,215.79 L180.25,216.37 L180.50,216.94 L180.75,217.50 L181.00,218.05 L181.25,218.58 L181.50,219.11 L181.75,219.62 L182.00,220.12 L182.25,220.61 L182.50,221.09 L182.75,221.55 L183.00,222.01 L183.25,222.46 L183.50,222.89 L183.75,223.32 L184.00,223.73 L184.25,224.14 L184.50,224.53 L184.75,224.91 L185.00,225.29 L185.25,225.65 L185.50,226.01 L185.75,226.36 L186.00,226.69 L186.25,227.02 L186.50,227.34 L186.75,227.65 L187.00,227.95 L187.25,228.24 L187.50,228.52 L187.75,228.80 L188.00,229.07 L188.25,229.32 L188.50,229.58 L188.75,229.82 L189.00,230.05 L189.25,230.28 L189.50,230.50 L189.75,230.71 L190.00,230.91 L190.25,231.11 L190.50,231.30 L190.75,231.48 L191.00,231.66 L191.25,231.82 L191.50,231.99 L191.75,232.14 L192.00,232.29 L192.25,232.43 L192.50,232.56 L192.75,232.69 L193.00,232.82 L193.25,232.93 L193.50,233.04 L193.75,233.15 L194.00,233.24 L194.25,233.34 L194.50,233.42 L194.75,233.51 L195.00,233.58 L195.25,233.65 L195.50,233.72 L195.75,233.78 L196.00,233.83 L196.25,233.88 L196.50,233.93 L196.75,233.97 L197.00,234.00 L197.25,234.03 L197.50,234.06 L197.75,234.08 L198.00,234.10 L198.25,234.11 L198.50,234.12 L198.75,234.12 L199.00,234.12 L199.25,234.12 L199.50,234.11 L199.75,234.10 L200.00,234.08 L200.25,234.06 L200.50,234.04 L200.75,234.01 L201.00,233.98 L201.25,233.95 L201.50,233.91 L201.75,233.87 L202.00,233.82 L202.25,233.78 L202.50,233.73 L202.75,233.67 L203.00,233.62 L203.25,233.56 L203.50,233.49 L203.75,233.43 L204.00,233.36 L204.25,233.29 L204.50,233.22 L204.75,233.14 L205.00,233.06 L205.25,232.98 L205.50,232.90 L205.75,232.81 L206.00,232.72 L206.25,232.63 L206.50,232.54 L206.75,232.45 L207.00,232.35 L207.25,232.25 L207.50,232.15 L207.75,232.05 L208.00,231.94 L208.25,231.84 L208.50,231.73 L208.75,231.62 L209.00,231.50 L209.25,231.39 L209.50,231.28 L209.75,231.16 L210.00,231.04 L210.25,230.92 L210.50,230.80 L210.75,230.68 L211.00,230.55 L211.25,230.43 L211.50,230.30 L211.75,230.17 L212.00,230.04 L212.25,229.91 L212.50,229.78 L212.75,229.64 L213.00,229.51 L213.25,229.37 L213.50,229.24 L213.75,229.10 L214.00,228.96 L214.25,228.82 L214.50,228.68 L214.75,228.54 L215.00,228.40 L215.25,228.25 L215.50,228.11 L215.75,227.96 L216.00,227.82 L216.25,227.67 L216.50,227.52 L216.75,227.37 L217.00,227.23 L217.25,227.08 L217.50,226.92 L217.75,226.77 L218.00,226.62 L218.25,226.47 L218.50,226.31 L218.75,226.16 L219.00,226.01 L219.25,225.85 L219.50,225.69 L219.75,225.54 L220.00,225.38 L220.25,225.22 L220.50,225.06 L220.75,224.90 L221.00,224.74 L221.25,224.58 L221.50,224.42 L221.75,224.26 L222.00,224.10 L222.25,223.93 L222.50,223.77 L222.75,223.61 L223.00,223.44 L223.25,223.28 L223.50,223.11 L223.75,222.94 L224.00,222.77 L224.25,222.61 L224.50,222.44 L224.75,222.27 L225.00,222.10 L225.25,221.93 L225.50,221.76 L225.75,221.58 L226.00,221.41 L226.25,221.24 L226.50,221.06 L226.75,220.89 L227.00,220.71 L227.25,220.54 L227.50,220.36 L227.75,220.18 L228.00,220.00 L228.25,219.82 L228.50,219.64 L228.75,219.46 L229.00,219.28 L229.25,219.09 L229.50,218.91 L229.75,218.72 L230.00,218.53 L230.25,218.35 L230.50,218.16 L230.75,217.97 L231.00,217.78 L231.25,217.58 L231.50,217.39 L231.75,217.19 L232.00,217.00 L232.25,216.80 L232.50,216.60 L232.75,216.40 L233.00,216.20 L233.25,216.00 L233.50,215.79 L233.75,215.58 L234.00,215.38 L234.25,215.17 L234.50,214.96 L234.75,214.74 L235.00,214.53 L235.25,214.31 L235.50,214.09 L235.75,213.87 L236.00,213.65 L236.25,213.43 L236.50,213.20 L236.75,212.97 L237.00,212.74 L237.25,212.51 L237.50,212.27 L237.75,212.04 L238.00,211.80 L238.25,211.55 L238.50,211.31 L238.75,211.06 L239.00,210.81 L239.25,210.56 L239.50,210.31 L239.75,210.05 L240.00,209.79 L240.25,209.53 L240.50,209.26 L240.75,208.99 L241.00,208.72 L241.25,208.44 L241.50,208.16 L241.75,207.88 L242.00,207.60 L242.25,207.31 L242.50,207.02 L242.75,206.72 L243.00,206.42 L243.25,206.12 L243.50,205.81 L243.75,205.50 L244.00,205.19 L244.25,204.87 L244.50,204.55 L244.75,204.22 L245.00,203.89 L245.25,203.56 L245.50,203.22 L245.75,202.87 L246.00,202.53 L246.25,202.17 L246.50,201.82 L246.75,201.45 L247.00,201.09 L247.25,200.72 L247.50,200.34 L247.75,199.96 L248.00,199.57 L248.25,199.18 L248.50,198.78 L248.75,198.38 L249.00,197.97 L249.25,197.55 L249.50,197.13 L249.75,196.71 L250.00,196.28 L250.25,195.84 L250.50,195.39 L250.75,194.94 L251.00,194.49 L251.25,194.02 L251.50,193.55 L251.75,193.08 L252.00,192.60 L252.25,192.11 L252.50,191.61 L252.75,191.11 L253.00,190.60 L253.25,190.08 L253.50,189.55 L253.75,189.02 L254.00,188.48 L254.25,187.93 L254.50,187.38 L254.75,186.82 L255.00,186.24 L255.25,185.67 L255.50,185.08 L255.75,184.48 L256.00,183.88 L256.25,183.27 L256.50,182.64 L256.75,182.01 L257.00,181.37 L257.25,180.73 L257.50,180.07 L257.75,179.40 L258.00,178.73 L258.25,178.04 L258.50,177.35 L258.75,176.64 L259.00,175.93 L259.25,175.20 L259.50,174.47 L259.75,173.72 L260.00,172.97 L260.25,172.20 L260.50,171.43 L260.75,170.64 L261.00,169.84 L261.25,169.03 L261.50,168.21 L261.75,167.38 L262.00,166.54 L262.25,165.69 L262.50,164.82 L262.75,163.94 L263.00,163.05 L263.25,162.15 L263.50,161.24 L263.75,160.31 L264.00,159.37 L264.25,158.42 L264.50,157.45 L264.75,156.48 L265.00,155.49 L265.02,155.40" fill="none" stroke="#2ca02c" stroke-width="1.8" stroke-linejoin="round" />
<path d="M169.68,155.40 L169.75,155.80 L170.00,157.16 L170.25,158.51 L170.50,159.84 L170.75,161.15 L171.00,162.45 L171.25,163.72 L171.50,164.98 L171.75,166.22 L172.00,167.45 L172.25,168.65 L172.50,169.84 L172.75,171.01 L173.00,172.17 L173.25,173.31 L173.50,174.43 L173.75,175.54 L174.00,176.63 L174.25,177.70 L174.50,178.76 L174.75,179.80 L175.00,180.83 L175.25,181.84 L175.50,182.84 L175.75,183.82 L176.00,184.79 L176.25,185.74 L176.50,186.68 L176.75,187.61 L177.00,188.51 L177.25,189.41 L177.50,190.29 L177.75,191.16 L178.00,192.02 L178.25,192.86 L178.50,193.68 L178.75,194.50 L179.00,195.30 L179.25,196.09 L179.50,196.87 L179.75,197.63 L180.00,198.38 L180.25,199.12 L180.50,199.85 L180.75,200.56 L181.00,201.26 L181.25,201.95 L181.50,202.63 L181.75,203.30 L182.00,203.96 L182.25,204.60 L182.50,205.24 L182.75,205.86 L183.00,206.47 L183.25,207.08 L183.50,207.67 L183.75,208.25 L184.00,208.82 L184.25,209.38 L184.50,209.93 L184.75,210.47 L185.00,211.00 L185.25,211.52 L185.50,212.03 L185.75,212.54 L186.00,213.03 L186.25,213.51 L186.50,213.99 L186.75,214.45 L187.00,214.91 L187.25,215.36 L187.50,215.80 L187.75,216.23 L188.00,216.65 L188.25,217.07 L188.50,217.47 L188.75,217.87 L189.00,218.26 L189.25,218.64 L189.50,219.02 L189.75,219.39 L190.00,219.75 L190.25,220.10 L190.50,220.44 L190.75,220.78 L191.00,221.11 L191.25,221.44 L191.50,221.76 L191.75,222.07 L192.00,222.37 L192.25,222.67 L192.50,222.96 L192.75,223.24 L193.00,223.52 L193.25,223.80 L193.50,224.06 L193.75,224.32 L194.00,224.58 L194.25,224.83 L194.50,225.07 L194.75,225.31 L195.00,225.54 L195.25,225.77 L195.50,225.99 L195.75,226.20 L196.00,226.41 L196.25,226.62 L196.50,226.82 L196.75,227.02 L197.00,227.21 L197.25,227.39 L197.50,227.58 L197.75,227.75 L198.00,227.93 L198.25,228.10 L198.50,228.26 L198.75,228.42 L199.00,228.58 L199.25,228.73 L199.50,228.88 L199.75,229.02 L200.00,229.16 L200.25,229.30 L200.50,229.43 L200.75,229.56 L201.00,229.68 L201.25,229.81 L201.50,229.92 L201.75,230.04 L202.00,230.15 L202.25,230.26 L202.50,230.37 L202.75,230.47 L203.00,230.57 L203.25,230.67 L203.50,230.76 L203.75,230.85 L204.00,230.94 L204.25,231.02 L204.50,231.11 L204.75,231.19 L205.00,231.26 L205.25,231.34 L205.50,231.41 L205.75,231.48 L206.00,231.55 L206.25,231.62 L206.50,231.68 L206.75,231.74 L207.00,231.80 L207.25,231.86 L207.50,231.91 L207.75,231.97 L208.00,232.02 L208.25,232.07 L208.50,232.11 L208.75,232.16 L209.00,232.20 L209.25,232.25 L209.50,232.29 L209.75,232.33 L210.00,232.36 L210.25,232.40 L210.50,232.43 L210.75,232.47 L211.00,232.50 L211.25,232.53 L211.50,232.56 L211.75,232.59 L212.00,232.61 L212.25,232.64 L212.50,232.66 L212.75,232.69 L213.00,232.71 L213.25,232.73 L213.50,232.75 L213.75,232.77 L214.00,232.78 L214.25,232.80 L214.50,232.81 L214.75,232.83 L215.00,232.84 L215.25,232.86 L215.50,232.87 L215.75,232.88 L216.00,232.89 L216.25,232.90 L216.50,232.91 L216.75,232.91 L217.00,232.92 L217.25,232.93 L217.50,232.93 L217.75,232.94 L218.00,232.94 L218.25,232.94 L218.50,232.95 L218.75,232.95 L219.00,232.95 L219.25,232.95 L219.50,232.95 L219.75,232.95 L220.00,232.95 L220.25,232.95 L220.50,232.94 L220.75,232.94 L221.00,232.94 L221.25,232.93 L221.50,232.93 L221.75,232.92 L222.00,232.91 L222.25,232.91 L222.50,232.90 L222.75,232.89 L223.00,232.88 L223.25,232.87 L223.50,232.86 L223.75,232.85 L224.00,232.84 L224.25,232.83 L224.50,232.82 L224.75,232.80 L225.00,232.79 L225.25,232.77 L225.50,232.76 L225.75,232.74 L226.00,232.73 L226.25,232.71 L226.50,232.69 L226.75,232.67 L227.00,232.65 L227.25,232.63 L227.50,232.61 L227.75,232.59 L228.00,232.56 L228.25,232.54 L228.50,232.52 L228.75,232.49 L229.00,232.46 L229.25,232.44 L229.50,232.41 L229.75,232.38 L230.00,232.35 L230.25,232.31 L230.50,232.28 L230.75,232.25 L231.00,232.21 L231.25,232.18 L231.50,232.14 L231.75,232.10 L232.00,232.06 L232.25,232.02 L232.50,231.98 L232.75,231.93 L233.00,231.89 L233.25,231.84 L233.50,231.79 L233.75,231.74 L234.00,231.69 L234.25,231.63 L234.50,231.58 L234.75,231.52 L235.00,231.46 L235.25,231.40 L235.50,231.34 L235.75,231.28 L236.00,231.21 L236.25,231.14 L236.50,231.07 L236.75,231.00 L237.00,230.93 L237.25,230.85 L237.50,230.77 L237.75,230.69 L238.00,230.61 L238.25,230.52 L238.50,230.43 L238.75,230.34 L239.00,230.25 L239.25,230.15 L239.50,230.05 L239.75,229.95 L240.00,229.85 L240.25,229.74 L240.50,229.63 L240.75,229.52 L241.00,229.40 L241.25,229.28 L241.50,229.16 L241.75,229.03 L242.00,228.90 L242.25,228.77 L242.50,228.64 L242.75,228.50 L243.00,228.35 L243.25,228.21 L243.50,228.06 L243.75,227.90 L244.00,227.74 L244.25,227.58 L244.50,227.42 L244.75,227.25 L245.00,227.07 L245.25,226.89 L245.50,226.71 L245.75,226.52 L246.00,226.33 L246.25,226.13 L246.50,225.93 L246.75,225.73 L247.00,225.52 L247.25,225.30 L247.50,225.08 L247.75,224.85 L248.00,224.62 L248.25,224.39 L248.50,224.14 L248.75,223.90 L249.00,223.65 L249.25,223.39 L249.50,223.12 L249.75,222.85 L250.00,222.58 L250.25,222.30 L250.50,222.01 L250.75,221.71 L251.00,221.41 L251.25,221.11 L251.50,220.79 L251.75,220.47 L252.00,220.15 L252.25,219.81 L252.50,219.47 L252.75,219.13 L253.00,218.77 L253.25,218.41 L253.50,218.04 L253.75,217.67 L254.00,217.28 L254.25,216.89 L254.50,216.49 L254.75,216.08 L255.00,215.67 L255.25,215.25 L255.50,214.81 L255.75,214.37 L256.00,213.93 L256.25,213.47 L256.50,213.00 L256.75,212.53 L257.00,212.05 L257.25,211.56 L257.50,211.06 L257.75,210.54 L258.00,210.03 L258.25,209.50 L258.50,208.96 L258.75,208.41 L259.00,207.85 L259.25,207.28 L259.50,206.70 L259.75,206.12 L260.00,205.52 L260.25,204.91 L260.50,204.29 L260.75,203.66 L261.00,203.01 L261.25,202.36 L261.50,201.70 L261.75,201.02 L262.00,200.34 L262.25,199.64 L262.50,198.93 L262.75,198.21 L263.00,197.47 L263.25,196.73 L263.50,195.97 L263.75,195.20 L264.00,194.42 L264.25,193.62 L264.50,192.81 L264.75,191.99 L265.00,191.16 L265.25,190.31 L265.50,189.45 L265.75,188.57 L266.00,187.68 L266.25,186.78 L266.50,185.87 L266.75,184.94 L267.00,183.99 L267.25,183.03 L267.50,182.06 L267.75,181.07 L268.00,180.07 L268.25,179.05 L268.50,178.02 L268.75,176.97 L269.00,175.90 L269.25,174.82 L269.50,173.73 L269.75,172.62 L270.00,171.49 L270.25,170.34 L270.50,169.18 L270.75,168.01 L271.00,166.81 L271.25,165.60 L271.50,164.37 L271.75,163.13 L272.00,161.86 L272.25,160.58 L272.50,159.28 L272.75,157.97 L273.00,156.63 L273.23,155.40" fill="none" stroke="#ff7f0e" stroke-width="1.8" stroke-linejoin="round" />
<path d="M178.04,155.40 L178.25,156.25 L178.50,157.24 L178.75,158.21 L179.00,159.17 L179.25,160.12 L179.50,161.05 L179.75,161.97 L180.00,162.88 L180.25,163.78 L180.50,164.66 L180.75,165.54 L181.00,166.40 L181.25,167.25 L181.50,168.09 L181.75,168.91 L182.00,169.73 L182.25,170.53 L182.50,171.32 L182.75,172.11 L183.00,172.88 L183.25,173.64 L183.50,174.39 L183.75,175.13 L184.00,175.86 L184.25,176.57 L184.50,177.28 L184.75,177.98 L185.00,178.67 L185.25,179.35 L185.50,180.02 L185.75,180.68 L186.00,181.33 L186.25,181.98 L186.50,182.61 L186.75,183.23 L187.00,183.85 L187.25,184.45 L187.50,185.05 L187.75,185.64 L188.00,186.22 L188.25,186.80 L188.50,187.36 L188.75,187.92 L189.00,188.47 L189.25,189.01 L189.50,189.54 L189.75,190.07 L190.00,190.59 L190.25,191.10 L190.50,191.60 L190.75,192.10 L191.00,192.59 L191.25,193.07 L191.50,193.55 L191.75,194.02 L192.00,194.48 L192.25,194.93 L192.50,195.38 L192.75,195.83 L193.00,196.26 L193.25,196.70 L193.50,197.12 L193.75,197.54 L194.00,197.95 L194.25,198.36 L194.50,198.76 L194.75,199.16 L195.00,199.55 L195.25,199.93 L195.50,200.31 L195.75,200.69 L196.00,201.06 L196.25,201.42 L196.50,201.78 L196.75,202.14 L197.00,202.49 L197.25,202.83 L197.50,203.17 L197.75,203.51 L198.00,203.84 L198.25,204.17 L198.50,204.49 L198.75,204.81 L199.00,205.12 L199.25,205.43 L199.50,205.74 L199.75,206.04 L200.00,206.34 L200.25,206.63 L200.50,206.92 L200.75,207.21 L201.00,207.50 L201.25,207.78 L201.50,208.05 L201.75,208.33 L202.00,208.60 L202.25,208.87 L202.50,209.13 L202.75,209.39 L203.00,209.65 L203.25,209.90 L203.50,210.16 L203.75,210.41 L204.00,210.65 L204.25,210.90 L204.50,211.14 L204.75,211.38 L205.00,211.61 L205.25,211.84 L205.50,212.08 L205.75,212.30 L206.00,212.53 L206.25,212.76 L206.50,212.98 L206.75,213.20 L207.00,213.42 L207.25,213.63 L207.50,213.84 L207.75,214.06 L208.00,214.27 L208.25,214.47 L208.50,214.68 L208.75,214.88 L209.00,215.09 L209.25,215.29 L209.50,215.49 L209.75,215.68 L210.00,215.88 L210.25,216.08 L210.50,216.27 L210.75,216.46 L211.00,216.65 L211.25,216.84 L211.50,217.03 L211.75,217.21 L212.00,217.40 L212.25,217.58 L212.50,217.76 L212.75,217.95 L213.00,218.13 L213.25,218.30 L213.50,218.48 L213.75,218.66 L214.00,218.84 L214.25,219.01 L214.50,219.18 L214.75,219.36 L215.00,219.53 L215.25,219.70 L215.50,219.87 L215.75,220.04 L216.00,220.21 L216.25,220.38 L216.50,220.54 L216.75,220.71 L217.00,220.87 L217.25,221.04 L217.50,221.20 L217.75,221.37 L218.00,221.53 L218.25,221.69 L218.50,221.85 L218.75,222.01 L219.00,222.17 L219.25,222.33 L219.50,222.49 L219.75,222.65 L220.00,222.80 L220.25,222.96 L220.50,223.11 L220.75,223.27 L221.00,223.42 L221.25,223.58 L221.50,223.73 L221.75,223.88 L222.00,224.04 L222.25,224.19 L222.50,224.34 L222.75,224.49 L223.00,224.64 L223.25,224.79 L223.50,224.94 L223.75,225.08 L224.00,225.23 L224.25,225.38 L224.50,225.52 L224.75,225.67 L225.00,225.81 L225.25,225.96 L225.50,226.10 L225.75,226.24 L226.00,226.38 L226.25,226.53 L226.50,226.67 L226.75,226.81 L227.00,226.94 L227.25,227.08 L227.50,227.22 L227.75,227.36 L228.00,227.49 L228.25,227.63 L228.50,227.76 L228.75,227.89 L229.00,228.02 L229.25,228.15 L229.50,228.28 L229.75,228.41 L230.00,228.54 L230.25,228.67 L230.50,228.79 L230.75,228.92 L231.00,229.04 L231.25,229.16 L231.50,229.28 L231.75,229.40 L232.00,229.52 L232.25,229.64 L232.50,229.75 L232.75,229.87 L233.00,229.98 L233.25,230.09 L233.50,230.20 L233.75,230.31 L234.00,230.42 L234.25,230.52 L234.50,230.62 L234.75,230.73 L235.00,230.83 L235.25,230.92 L235.50,231.02 L235.75,231.11 L236.00,231.21 L236.25,231.30 L236.50,231.39 L236.75,231.47 L237.00,231.56 L237.25,231.64 L237.50,231.72 L237.75,231.79 L238.00,231.87 L238.25,231.94 L238.50,232.01 L238.75,232.08 L239.00,232.15 L239.25,232.21 L239.50,232.27 L239.75,232.32 L240.00,232.38 L240.25,232.43 L240.50,232.48 L240.75,232.52 L241.00,232.57 L241.25,232.61 L241.50,232.64 L241.75,232.67 L242.00,232.70 L242.25,232.73 L242.50,232.75 L242.75,232.77 L243.00,232.79 L243.25,232.80 L243.50,232.81 L243.75,232.81 L244.00,232.81 L244.25,232.81 L244.50,232.80 L244.75,232.79 L245.00,232.77 L245.25,232.75 L245.50,232.73 L245.75,232.70 L246.00,232.67 L246.25,232.63 L246.50,232.58 L246.75,232.54 L247.00,232.49 L247.25,232.43 L247.50,232.37 L247.75,232.30 L248.00,232.23 L248.25,232.15 L248.50,232.06 L248.75,231.98 L249.00,231.88 L249.25,231.78 L249.50,231.68 L249.75,231.57 L250.00,231.45 L250.25,231.32 L250.50,231.20 L250.75,231.06 L251.00,230.92 L251.25,230.77 L251.50,230.61 L251.75,230.45 L252.00,230.29 L252.25,230.11 L252.50,229.93 L252.75,229.74 L253.00,229.54 L253.25,229.34 L253.50,229.13 L253.75,228.91 L254.00,228.69 L254.25,228.45 L254.50,228.21 L254.75,227.97 L255.00,227.71 L255.25,227.44 L255.50,227.17 L255.75,226.89 L256.00,226.60 L256.25,226.30 L256.50,226.00 L256.75,225.68 L257.00,225.36 L257.25,225.02 L257.50,224.68 L257.75,224.33 L258.00,223.97 L258.25,223.60 L258.50,223.22 L258.75,222.83 L259.00,222.43 L259.25,222.02 L259.50,221.60 L259.75,221.17 L260.00,220.73 L260.25,220.27 L260.50,219.81 L260.75,219.34 L261.00,218.86 L261.25,218.36 L261.50,217.86 L261.75,217.34 L262.00,216.81 L262.25,216.27 L262.50,215.72 L262.75,215.16 L263.00,214.58 L263.25,214.00 L263.50,213.40 L263.75,212.78 L264.00,212.16 L264.25,211.52 L264.50,210.87 L264.75,210.21 L265.00,209.53 L265.25,208.85 L265.50,208.14 L265.75,207.43 L266.00,206.70 L266.25,205.95 L266.50,205.20 L266.75,204.42 L267.00,203.64 L267.25,202.84 L267.50,202.02 L267.75,201.19 L268.00,200.35 L268.25,199.49 L268.50,198.61 L268.75,197.72 L269.00,196.82 L269.25,195.90 L269.50,194.96 L269.75,194.01 L270.00,193.04 L270.25,192.05 L270.50,191.05 L270.75,190.03 L271.00,188.99 L271.25,187.94 L271.50,186.87 L271.75,185.78 L272.00,184.68 L272.25,183.56 L272.50,182.42 L272.75,181.26 L273.00,180.08 L273.25,178.89 L273.50,177.67 L273.75,176.44 L274.00,175.19 L274.25,173.92 L274.50,172.63 L274.75,171.33 L275.00,170.00 L275.25,168.65 L275.50,167.28 L275.75,165.89 L276.00,164.49 L276.25,163.06 L276.50,161.61 L276.75,160.14 L277.00,158.65 L277.25,157.14 L277.50,155.60 L277.53,155.40" fill="none" stroke="#1f77b4" stroke-width="1.8" stroke-linejoin="round" />
<path d="M335.2,46V134.3H464" stroke="#626262" stroke-width="1.4" fill="none" stroke-linejoin="round"/>
<path d="M470,134.3L462,131.60000000000002L462,137.0Z" fill="#626262"/>
<path d="M335.2,40L332.5,48L337.9,48Z" fill="#626262"/>
<text transform="translate(326.8,97.6) rotate(-90)" x="0" y="0" font-size="11" fill="#111" textLength="54.8" lengthAdjust="spacingAndGlyphs" stroke="#111" stroke-width="0.15">Temperature</text>
<path d="M370.4,35.7 L389.6,55.9" fill="none" stroke="#555555" stroke-width="1.8" stroke-linejoin="round" stroke-dasharray="2.4,5.8,7.0,6.2,30"/>
<path d="M389.6,55.9 L460,131" fill="none" stroke="#555555" stroke-width="1.8" stroke-linejoin="round" />
<circle cx="389.6" cy="55.9" r="3.9" fill="#555555"/>
<path d="M362.9,131.2 L403.2,70.6 L433.8,65.8 L450,63.3" fill="none" stroke="#d40000" stroke-width="2.0" stroke-linejoin="round" stroke-linecap="round"/>
<path d="M381.2,98.1H391.59999999999997M386.4,92.89999999999999V103.3" stroke="#5aa846" stroke-width="2" fill="none"/>
<path d="M398.0,70.6H408.4M403.2,65.39999999999999V75.8" stroke="#f0a030" stroke-width="2" fill="none"/>
<path d="M428.7,65.9H439.09999999999997M433.9,60.7V71.10000000000001" stroke="#2f74d6" stroke-width="2" fill="none"/>
<text x="415.3" y="48.8" font-size="11" fill="#777" stroke="#777" stroke-width="0.15" font-weight="normal" text-anchor="start" textLength="25.1" lengthAdjust="spacingAndGlyphs" >LLCP</text>
<path d="M410.6,45.1 L396,51.4" stroke="#666" stroke-width="0.7" fill="none"/>
<path d="M394.4,52.1 L398.5,49 L399.3,51.2Z" fill="#666"/>
<path d="M335.2,154.3V236.5H464" stroke="#626262" stroke-width="1.4" fill="none" stroke-linejoin="round"/>
<path d="M470,236.5L462,233.8L462,239.2Z" fill="#626262"/>
<path d="M335.2,148.3L332.5,156.3L337.9,156.3Z" fill="#626262"/>
<text transform="translate(326.5,203.8) rotate(-90)" x="0" y="0" font-size="11" fill="#111" textLength="51.6" lengthAdjust="spacingAndGlyphs" stroke="#111" stroke-width="0.15">Free energy</text>
<text x="415.4" y="249.0" font-size="11" fill="#111" stroke="#111" stroke-width="0.15" font-weight="normal" text-anchor="start" textLength="29.2" lengthAdjust="spacingAndGlyphs" >Liquid</text>
<text x="446.8" y="249.0" font-size="11" fill="#111" stroke="#111" stroke-width="0.15" font-weight="normal" text-anchor="start" textLength="26" lengthAdjust="spacingAndGlyphs" >water</text>
<path d="M351.49,156.00 L351.50,156.09 L351.75,157.94 L352.00,159.76 L352.25,161.55 L352.50,163.32 L352.75,165.05 L353.00,166.76 L353.25,168.44 L353.50,170.10 L353.75,171.73 L354.00,173.33 L354.25,174.90 L354.50,176.45 L354.75,177.97 L355.00,179.47 L355.25,180.94 L355.50,182.38 L355.75,183.80 L356.00,185.19 L356.25,186.56 L356.50,187.91 L356.75,189.23 L357.00,190.52 L357.25,191.79 L357.50,193.04 L357.75,194.27 L358.00,195.47 L358.25,196.64 L358.50,197.80 L358.75,198.93 L359.00,200.04 L359.25,201.13 L359.50,202.19 L359.75,203.24 L360.00,204.26 L360.25,205.26 L360.50,206.24 L360.75,207.20 L361.00,208.13 L361.25,209.05 L361.50,209.95 L361.75,210.82 L362.00,211.68 L362.25,212.51 L362.50,213.33 L362.75,214.13 L363.00,214.90 L363.25,215.66 L363.50,216.40 L363.75,217.12 L364.00,217.82 L364.25,218.51 L364.50,219.17 L364.75,219.82 L365.00,220.45 L365.25,221.06 L365.50,221.66 L365.75,222.23 L366.00,222.79 L366.25,223.34 L366.50,223.86 L366.75,224.37 L367.00,224.87 L367.25,225.35 L367.50,225.81 L367.75,226.26 L368.00,226.69 L368.25,227.10 L368.50,227.50 L368.75,227.89 L369.00,228.26 L369.25,228.61 L369.50,228.95 L369.75,229.28 L370.00,229.59 L370.25,229.89 L370.50,230.18 L370.75,230.45 L371.00,230.71 L371.25,230.95 L371.50,231.18 L371.75,231.40 L372.00,231.60 L372.25,231.80 L372.50,231.98 L372.75,232.14 L373.00,232.30 L373.25,232.44 L373.50,232.58 L373.75,232.70 L374.00,232.80 L374.25,232.90 L374.50,232.99 L374.75,233.06 L375.00,233.12 L375.25,233.18 L375.50,233.22 L375.75,233.25 L376.00,233.27 L376.25,233.29 L376.50,233.29 L376.75,233.28 L377.00,233.26 L377.25,233.23 L377.50,233.20 L377.75,233.15 L378.00,233.09 L378.25,233.03 L378.50,232.96 L378.75,232.87 L379.00,232.78 L379.25,232.69 L379.50,232.58 L379.75,232.46 L380.00,232.34 L380.25,232.21 L380.50,232.07 L380.75,231.92 L381.00,231.77 L381.25,231.61 L381.50,231.44 L381.75,231.26 L382.00,231.08 L382.25,230.89 L382.50,230.70 L382.75,230.50 L383.00,230.29 L383.25,230.07 L383.50,229.85 L383.75,229.62 L384.00,229.39 L384.25,229.15 L384.50,228.91 L384.75,228.66 L385.00,228.40 L385.25,228.14 L385.50,227.88 L385.75,227.61 L386.00,227.33 L386.25,227.05 L386.50,226.77 L386.75,226.48 L387.00,226.18 L387.25,225.89 L387.50,225.58 L387.75,225.28 L388.00,224.97 L388.25,224.65 L388.50,224.33 L388.75,224.01 L389.00,223.69 L389.25,223.36 L389.50,223.03 L389.75,222.69 L390.00,222.35 L390.25,222.01 L390.50,221.67 L390.75,221.32 L391.00,220.97 L391.25,220.62 L391.50,220.26 L391.75,219.91 L392.00,219.55 L392.25,219.18 L392.50,218.82 L392.75,218.45 L393.00,218.09 L393.25,217.72 L393.50,217.35 L393.75,216.97 L394.00,216.60 L394.25,216.22 L394.50,215.85 L394.75,215.47 L395.00,215.09 L395.25,214.71 L395.50,214.32 L395.75,213.94 L396.00,213.56 L396.25,213.17 L396.50,212.79 L396.75,212.40 L397.00,212.02 L397.25,211.63 L397.50,211.25 L397.75,210.86 L398.00,210.47 L398.25,210.08 L398.50,209.70 L398.75,209.31 L399.00,208.92 L399.25,208.54 L399.50,208.15 L399.75,207.76 L400.00,207.38 L400.25,206.99 L400.50,206.61 L400.75,206.22 L401.00,205.84 L401.25,205.46 L401.50,205.08 L401.75,204.70 L402.00,204.32 L402.25,203.94 L402.50,203.56 L402.75,203.19 L403.00,202.81 L403.25,202.44 L403.50,202.06 L403.75,201.69 L404.00,201.32 L404.25,200.96 L404.50,200.59 L404.75,200.23 L405.00,199.86 L405.25,199.50 L405.50,199.14 L405.75,198.79 L406.00,198.43 L406.25,198.08 L406.50,197.73 L406.75,197.38 L407.00,197.03 L407.25,196.69 L407.50,196.34 L407.75,196.00 L408.00,195.66 L408.25,195.33 L408.50,195.00 L408.75,194.67 L409.00,194.34 L409.25,194.01 L409.50,193.69 L409.75,193.37 L410.00,193.05 L410.25,192.74 L410.50,192.42 L410.75,192.11 L411.00,191.81 L411.25,191.50 L411.50,191.20 L411.75,190.90 L412.00,190.61 L412.25,190.32 L412.50,190.03 L412.75,189.74 L413.00,189.46 L413.25,189.18 L413.50,188.90 L413.75,188.63 L414.00,188.36 L414.25,188.09 L414.50,187.83 L414.75,187.57 L415.00,187.31 L415.25,187.06 L415.50,186.81 L415.75,186.56 L416.00,186.32 L416.25,186.08 L416.50,185.84 L416.75,185.61 L417.00,185.38 L417.25,185.15 L417.50,184.93 L417.75,184.71 L418.00,184.49 L418.25,184.28 L418.50,184.07 L418.75,183.87 L419.00,183.66 L419.25,183.47 L419.50,183.27 L419.75,183.08 L420.00,182.89 L420.25,182.71 L420.50,182.53 L420.75,182.35 L421.00,182.18 L421.25,182.01 L421.50,181.84 L421.75,181.68 L422.00,181.52 L422.25,181.37 L422.50,181.22 L422.75,181.07 L423.00,180.93 L423.25,180.79 L423.50,180.65 L423.75,180.52 L424.00,180.39 L424.25,180.26 L424.50,180.14 L424.75,180.02 L425.00,179.90 L425.25,179.79 L425.50,179.68 L425.75,179.58 L426.00,179.48 L426.25,179.38 L426.50,179.29 L426.75,179.19 L427.00,179.11 L427.25,179.02 L427.50,178.94 L427.75,178.87 L428.00,178.79 L428.25,178.72 L428.50,178.65 L428.75,178.59 L429.00,178.53 L429.25,178.47 L429.50,178.42 L429.75,178.37 L430.00,178.32 L430.25,178.28 L430.50,178.24 L430.75,178.20 L431.00,178.16 L431.25,178.13 L431.50,178.10 L431.75,178.08 L432.00,178.05 L432.25,178.03 L432.50,178.02 L432.75,178.00 L433.00,177.99 L433.25,177.98 L433.50,177.97 L433.75,177.97 L434.00,177.97 L434.25,177.97 L434.50,177.98 L434.75,177.98 L435.00,177.99 L435.25,178.01 L435.50,178.02 L435.75,178.04 L436.00,178.06 L436.25,178.08 L436.50,178.10 L436.75,178.13 L437.00,178.15 L437.25,178.18 L437.50,178.22 L437.75,178.25 L438.00,178.29 L438.25,178.32 L438.50,178.36 L438.75,178.41 L439.00,178.45 L439.25,178.49 L439.50,178.54 L439.75,178.59 L440.00,178.64 L440.25,178.69 L440.50,178.74 L440.75,178.79 L441.00,178.85 L441.25,178.90 L441.50,178.96 L441.75,179.02 L442.00,179.08 L442.25,179.14 L442.50,179.20 L442.75,179.26 L443.00,179.32 L443.25,179.38 L443.50,179.45 L443.75,179.51 L444.00,179.57 L444.25,179.64 L444.50,179.70 L444.75,179.77 L445.00,179.83 L445.25,179.90 L445.50,179.96 L445.75,180.03 L446.00,180.09 L446.25,180.16 L446.50,180.22 L446.75,180.28 L447.00,180.35 L447.25,180.41 L447.50,180.47 L447.75,180.53 L448.00,180.59 L448.25,180.65 L448.50,180.71 L448.75,180.77 L449.00,180.82 L449.25,180.88 L449.50,180.93 L449.75,180.98 L450.00,181.03 L450.25,181.08 L450.50,181.13 L450.75,181.17 L451.00,181.22 L451.25,181.26 L451.50,181.29 L451.75,181.33 L452.00,181.37" fill="none" stroke="#2ca02c" stroke-width="1.8" stroke-linejoin="round" />
<path d="M353.50,156.00 L353.50,156.01 L353.75,157.79 L354.00,159.53 L354.25,161.26 L354.50,162.95 L354.75,164.62 L355.00,166.27 L355.25,167.89 L355.50,169.48 L355.75,171.05 L356.00,172.59 L356.25,174.11 L356.50,175.60 L356.75,177.07 L357.00,178.52 L357.25,179.94 L357.50,181.33 L357.75,182.71 L358.00,184.06 L358.25,185.39 L358.50,186.69 L358.75,187.97 L359.00,189.23 L359.25,190.47 L359.50,191.68 L359.75,192.87 L360.00,194.04 L360.25,195.19 L360.50,196.32 L360.75,197.43 L361.00,198.51 L361.25,199.58 L361.50,200.62 L361.75,201.65 L362.00,202.65 L362.25,203.64 L362.50,204.60 L362.75,205.55 L363.00,206.47 L363.25,207.38 L363.50,208.27 L363.75,209.14 L364.00,209.99 L364.25,210.82 L364.50,211.64 L364.75,212.43 L365.00,213.21 L365.25,213.97 L365.50,214.72 L365.75,215.44 L366.00,216.15 L366.25,216.85 L366.50,217.52 L366.75,218.18 L367.00,218.82 L367.25,219.45 L367.50,220.06 L367.75,220.66 L368.00,221.24 L368.25,221.80 L368.50,222.35 L368.75,222.89 L369.00,223.41 L369.25,223.91 L369.50,224.40 L369.75,224.88 L370.00,225.34 L370.25,225.78 L370.50,226.22 L370.75,226.64 L371.00,227.05 L371.25,227.44 L371.50,227.82 L371.75,228.19 L372.00,228.54 L372.25,228.88 L372.50,229.21 L372.75,229.53 L373.00,229.83 L373.25,230.12 L373.50,230.40 L373.75,230.67 L374.00,230.93 L374.25,231.18 L374.50,231.41 L374.75,231.64 L375.00,231.85 L375.25,232.05 L375.50,232.24 L375.75,232.42 L376.00,232.59 L376.25,232.75 L376.50,232.90 L376.75,233.04 L377.00,233.18 L377.25,233.30 L377.50,233.41 L377.75,233.51 L378.00,233.61 L378.25,233.69 L378.50,233.77 L378.75,233.83 L379.00,233.89 L379.25,233.94 L379.50,233.98 L379.75,234.02 L380.00,234.04 L380.25,234.06 L380.50,234.07 L380.75,234.07 L381.00,234.07 L381.25,234.06 L381.50,234.04 L381.75,234.01 L382.00,233.98 L382.25,233.94 L382.50,233.89 L382.75,233.84 L383.00,233.78 L383.25,233.71 L383.50,233.64 L383.75,233.56 L384.00,233.48 L384.25,233.39 L384.50,233.29 L384.75,233.19 L385.00,233.09 L385.25,232.98 L385.50,232.86 L385.75,232.74 L386.00,232.61 L386.25,232.48 L386.50,232.34 L386.75,232.20 L387.00,232.06 L387.25,231.91 L387.50,231.76 L387.75,231.60 L388.00,231.44 L388.25,231.27 L388.50,231.10 L388.75,230.93 L389.00,230.75 L389.25,230.57 L389.50,230.39 L389.75,230.21 L390.00,230.02 L390.25,229.82 L390.50,229.63 L390.75,229.43 L391.00,229.23 L391.25,229.03 L391.50,228.82 L391.75,228.61 L392.00,228.40 L392.25,228.19 L392.50,227.97 L392.75,227.76 L393.00,227.54 L393.25,227.32 L393.50,227.10 L393.75,226.87 L394.00,226.65 L394.25,226.42 L394.50,226.19 L394.75,225.96 L395.00,225.73 L395.25,225.50 L395.50,225.27 L395.75,225.03 L396.00,224.80 L396.25,224.56 L396.50,224.33 L396.75,224.09 L397.00,223.85 L397.25,223.62 L397.50,223.38 L397.75,223.14 L398.00,222.90 L398.25,222.66 L398.50,222.43 L398.75,222.19 L399.00,221.95 L399.25,221.71 L399.50,221.47 L399.75,221.24 L400.00,221.00 L400.25,220.77 L400.50,220.53 L400.75,220.29 L401.00,220.06 L401.25,219.83 L401.50,219.59 L401.75,219.36 L402.00,219.13 L402.25,218.90 L402.50,218.67 L402.75,218.45 L403.00,218.22 L403.25,218.00 L403.50,217.77 L403.75,217.55 L404.00,217.33 L404.25,217.11 L404.50,216.90 L404.75,216.68 L405.00,216.47 L405.25,216.25 L405.50,216.04 L405.75,215.84 L406.00,215.63 L406.25,215.43 L406.50,215.22 L406.75,215.02 L407.00,214.83 L407.25,214.63 L407.50,214.44 L407.75,214.24 L408.00,214.06 L408.25,213.87 L408.50,213.68 L408.75,213.50 L409.00,213.32 L409.25,213.15 L409.50,212.97 L409.75,212.80 L410.00,212.63 L410.25,212.47 L410.50,212.30 L410.75,212.14 L411.00,211.99 L411.25,211.83 L411.50,211.68 L411.75,211.53 L412.00,211.38 L412.25,211.24 L412.50,211.10 L412.75,210.96 L413.00,210.83 L413.25,210.70 L413.50,210.57 L413.75,210.45 L414.00,210.33 L414.25,210.21 L414.50,210.10 L414.75,209.98 L415.00,209.88 L415.25,209.77 L415.50,209.67 L415.75,209.57 L416.00,209.48 L416.25,209.39 L416.50,209.30 L416.75,209.21 L417.00,209.13 L417.25,209.06 L417.50,208.98 L417.75,208.91 L418.00,208.84 L418.25,208.78 L418.50,208.72 L418.75,208.66 L419.00,208.61 L419.25,208.56 L419.50,208.52 L419.75,208.47 L420.00,208.44 L420.25,208.40 L420.50,208.37 L420.75,208.34 L421.00,208.32 L421.25,208.30 L421.50,208.28 L421.75,208.27 L422.00,208.26 L422.25,208.25 L422.50,208.25 L422.75,208.25 L423.00,208.26 L423.25,208.27 L423.50,208.28 L423.75,208.29 L424.00,208.31 L424.25,208.34 L424.50,208.36 L424.75,208.39 L425.00,208.43 L425.25,208.46 L425.50,208.50 L425.75,208.55 L426.00,208.60 L426.25,208.65 L426.50,208.70 L426.75,208.76 L427.00,208.82 L427.25,208.89 L427.50,208.96 L427.75,209.03 L428.00,209.10 L428.25,209.18 L428.50,209.26 L428.75,209.35 L429.00,209.44 L429.25,209.53 L429.50,209.62 L429.75,209.72 L430.00,209.82 L430.25,209.93 L430.50,210.04 L430.75,210.15 L431.00,210.26 L431.25,210.38 L431.50,210.50 L431.75,210.62 L432.00,210.75 L432.25,210.88 L432.50,211.01 L432.75,211.14 L433.00,211.28 L433.25,211.42 L433.50,211.56 L433.75,211.71 L434.00,211.86 L434.25,212.01 L434.50,212.16 L434.75,212.32 L435.00,212.48 L435.25,212.64 L435.50,212.80 L435.75,212.97 L436.00,213.14 L436.25,213.31 L436.50,213.48 L436.75,213.65 L437.00,213.83 L437.25,214.01 L437.50,214.19 L437.75,214.37 L438.00,214.56 L438.25,214.74 L438.50,214.93 L438.75,215.12 L439.00,215.32 L439.25,215.51 L439.50,215.70 L439.75,215.90 L440.00,216.10 L440.25,216.30 L440.50,216.50 L440.75,216.70 L441.00,216.91 L441.25,217.11 L441.50,217.32 L441.75,217.52 L442.00,217.73 L442.25,217.94 L442.50,218.15 L442.75,218.36 L443.00,218.57 L443.25,218.78 L443.50,218.99 L443.75,219.21 L444.00,219.42 L444.25,219.63 L444.50,219.85 L444.75,220.06 L445.00,220.28 L445.25,220.49 L445.50,220.70 L445.75,220.92 L446.00,221.13 L446.25,221.34 L446.50,221.56 L446.75,221.77 L447.00,221.98 L447.25,222.19 L447.50,222.40 L447.75,222.61 L448.00,222.82 L448.25,223.03 L448.50,223.24 L448.75,223.44 L449.00,223.65 L449.25,223.85 L449.50,224.06 L449.75,224.26 L450.00,224.46 L450.25,224.65 L450.50,224.85 L450.75,225.04 L451.00,225.23 L451.25,225.42 L451.50,225.61 L451.75,225.80 L452.00,225.98" fill="none" stroke="#ff7f0e" stroke-width="1.8" stroke-linejoin="round" />
<path d="M366.83,156.00 L367.00,156.55 L367.25,157.33 L367.50,158.11 L367.75,158.86 L368.00,159.60 L368.25,160.33 L368.50,161.04 L368.75,161.73 L369.00,162.41 L369.25,163.07 L369.50,163.72 L369.75,164.36 L370.00,164.98 L370.25,165.59 L370.50,166.18 L370.75,166.76 L371.00,167.33 L371.25,167.88 L371.50,168.42 L371.75,168.95 L372.00,169.46 L372.25,169.97 L372.50,170.46 L372.75,170.93 L373.00,171.40 L373.25,171.85 L373.50,172.29 L373.75,172.72 L374.00,173.14 L374.25,173.54 L374.50,173.94 L374.75,174.32 L375.00,174.69 L375.25,175.06 L375.50,175.41 L375.75,175.75 L376.00,176.08 L376.25,176.40 L376.50,176.71 L376.75,177.01 L377.00,177.30 L377.25,177.58 L377.50,177.86 L377.75,178.12 L378.00,178.37 L378.25,178.62 L378.50,178.85 L378.75,179.08 L379.00,179.30 L379.25,179.51 L379.50,179.71 L379.75,179.91 L380.00,180.09 L380.25,180.27 L380.50,180.44 L380.75,180.60 L381.00,180.76 L381.25,180.91 L381.50,181.05 L381.75,181.18 L382.00,181.31 L382.25,181.43 L382.50,181.54 L382.75,181.65 L383.00,181.75 L383.25,181.84 L383.50,181.93 L383.75,182.01 L384.00,182.09 L384.25,182.16 L384.50,182.23 L384.75,182.29 L385.00,182.34 L385.25,182.39 L385.50,182.43 L385.75,182.47 L386.00,182.50 L386.25,182.53 L386.50,182.56 L386.75,182.58 L387.00,182.59 L387.25,182.60 L387.50,182.61 L387.75,182.61 L388.00,182.61 L388.25,182.61 L388.50,182.60 L388.75,182.58 L389.00,182.57 L389.25,182.55 L389.50,182.53 L389.75,182.50 L390.00,182.47 L390.25,182.44 L390.50,182.40 L390.75,182.36 L391.00,182.32 L391.25,182.28 L391.50,182.24 L391.75,182.19 L392.00,182.14 L392.25,182.08 L392.50,182.03 L392.75,181.97 L393.00,181.91 L393.25,181.85 L393.50,181.79 L393.75,181.73 L394.00,181.66 L394.25,181.60 L394.50,181.53 L394.75,181.46 L395.00,181.39 L395.25,181.32 L395.50,181.24 L395.75,181.17 L396.00,181.10 L396.25,181.02 L396.50,180.94 L396.75,180.87 L397.00,180.79 L397.25,180.71 L397.50,180.64 L397.75,180.56 L398.00,180.48 L398.25,180.40 L398.50,180.32 L398.75,180.25 L399.00,180.17 L399.25,180.09 L399.50,180.01 L399.75,179.94 L400.00,179.86 L400.25,179.78 L400.50,179.71 L400.75,179.63 L401.00,179.56 L401.25,179.49 L401.50,179.42 L401.75,179.34 L402.00,179.27 L402.25,179.20 L402.50,179.14 L402.75,179.07 L403.00,179.00 L403.25,178.94 L403.50,178.88 L403.75,178.81 L404.00,178.75 L404.25,178.69 L404.50,178.64 L404.75,178.58 L405.00,178.53 L405.25,178.48 L405.50,178.43 L405.75,178.38 L406.00,178.33 L406.25,178.29 L406.50,178.25 L406.75,178.21 L407.00,178.17 L407.25,178.13 L407.50,178.10 L407.75,178.07 L408.00,178.04 L408.25,178.01 L408.50,177.99 L408.75,177.97 L409.00,177.95 L409.25,177.93 L409.50,177.92 L409.75,177.91 L410.00,177.90 L410.25,177.89 L410.50,177.89 L410.75,177.89 L411.00,177.89 L411.25,177.90 L411.50,177.91 L411.75,177.92 L412.00,177.93 L412.25,177.95 L412.50,177.97 L412.75,177.99 L413.00,178.02 L413.25,178.05 L413.50,178.08 L413.75,178.12 L414.00,178.15 L414.25,178.20 L414.50,178.24 L414.75,178.29 L415.00,178.34 L415.25,178.40 L415.50,178.46 L415.75,178.52 L416.00,178.58 L416.25,178.65 L416.50,178.73 L416.75,178.80 L417.00,178.88 L417.25,178.96 L417.50,179.05 L417.75,179.14 L418.00,179.23 L418.25,179.33 L418.50,179.43 L418.75,179.53 L419.00,179.64 L419.25,179.75 L419.50,179.87 L419.75,179.98 L420.00,180.11 L420.25,180.23 L420.50,180.36 L420.75,180.49 L421.00,180.63 L421.25,180.77 L421.50,180.91 L421.75,181.06 L422.00,181.21 L422.25,181.36 L422.50,181.52 L422.75,181.68 L423.00,181.85 L423.25,182.02 L423.50,182.19 L423.75,182.37 L424.00,182.55 L424.25,182.73 L424.50,182.91 L424.75,183.10 L425.00,183.30 L425.25,183.50 L425.50,183.70 L425.75,183.90 L426.00,184.11 L426.25,184.32 L426.50,184.54 L426.75,184.75 L427.00,184.98 L427.25,185.20 L427.50,185.43 L427.75,185.66 L428.00,185.90 L428.25,186.14 L428.50,186.38 L428.75,186.62 L429.00,186.87 L429.25,187.12 L429.50,187.38 L429.75,187.64 L430.00,187.90 L430.25,188.16 L430.50,188.43 L430.75,188.70 L431.00,188.98 L431.25,189.25 L431.50,189.53 L431.75,189.82 L432.00,190.10 L432.25,190.39 L432.50,190.68 L432.75,190.98 L433.00,191.28 L433.25,191.58 L433.50,191.88 L433.75,192.19 L434.00,192.49 L434.25,192.81 L434.50,193.12 L434.75,193.44 L435.00,193.75 L435.25,194.08 L435.50,194.40 L435.75,194.72 L436.00,195.05 L436.25,195.38 L436.50,195.72 L436.75,196.05 L437.00,196.39 L437.25,196.73 L437.50,197.07 L437.75,197.41 L438.00,197.76 L438.25,198.10 L438.50,198.45 L438.75,198.80 L439.00,199.16 L439.25,199.51 L439.50,199.86 L439.75,200.22 L440.00,200.58 L440.25,200.94 L440.50,201.30 L440.75,201.66 L441.00,202.03 L441.25,202.39 L441.50,202.76 L441.75,203.12 L442.00,203.49 L442.25,203.86 L442.50,204.23 L442.75,204.60 L443.00,204.97 L443.25,205.34 L443.50,205.72 L443.75,206.09 L444.00,206.46 L444.25,206.84 L444.50,207.21 L444.75,207.58 L445.00,207.96 L445.25,208.33 L445.50,208.71 L445.75,209.08 L446.00,209.45 L446.25,209.83 L446.50,210.20 L446.75,210.57 L447.00,210.95 L447.25,211.32 L447.50,211.69 L447.75,212.06 L448.00,212.43 L448.25,212.80 L448.50,213.16 L448.75,213.53 L449.00,213.89 L449.25,214.26 L449.50,214.62 L449.75,214.98 L450.00,215.34 L450.25,215.70 L450.50,216.05 L450.75,216.41 L451.00,216.76 L451.25,217.11 L451.50,217.46 L451.75,217.80 L452.00,218.15" fill="none" stroke="#1f77b4" stroke-width="1.8" stroke-linejoin="round" />
</svg>
</body></html>
